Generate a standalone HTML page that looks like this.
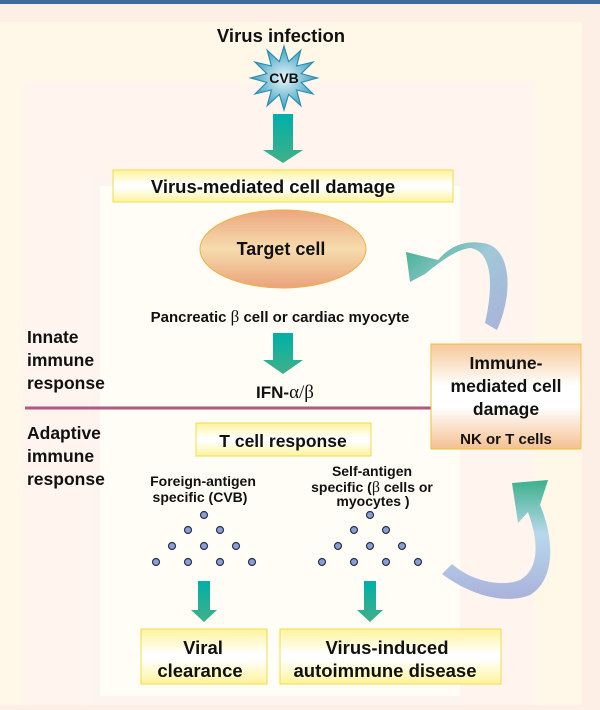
<!DOCTYPE html>
<html><head><meta charset="utf-8"><style>
html,body{margin:0;padding:0;}
body{width:600px;height:705px;overflow:hidden;background:#fdeee6;font-family:"Liberation Sans",Arial,sans-serif;}
svg text{font-family:"Liberation Sans",Arial,sans-serif;font-weight:bold;fill:#111;}
</style></head><body>
<svg width="600" height="705" viewBox="0 0 600 705" xmlns="http://www.w3.org/2000/svg">
<defs>
<linearGradient id="ybox" x1="0" y1="0" x2="0" y2="1">
<stop offset="0" stop-color="#fff39a"/><stop offset="0.45" stop-color="#ffffff"/><stop offset="0.55" stop-color="#ffffff"/><stop offset="1" stop-color="#fff39a"/></linearGradient>
<linearGradient id="pbox" x1="0" y1="0" x2="0" y2="1">
<stop offset="0" stop-color="#f6c898"/><stop offset="0.4" stop-color="#ffffff"/><stop offset="0.6" stop-color="#ffffff"/><stop offset="1" stop-color="#f4c090"/></linearGradient>
<linearGradient id="ell" x1="0" y1="0" x2="0" y2="1">
<stop offset="0" stop-color="#eca67e"/><stop offset="0.5" stop-color="#f6dcae"/><stop offset="1" stop-color="#eba27a"/></linearGradient>
<linearGradient id="arr" x1="0" y1="0" x2="0" y2="1">
<stop offset="0" stop-color="#00b0a8"/><stop offset="1" stop-color="#40b088"/></linearGradient>
<radialGradient id="star" cx="0.5" cy="0.5" r="0.5">
<stop offset="0" stop-color="#e8f6fa"/><stop offset="1" stop-color="#3a9ec0"/></radialGradient>
<linearGradient id="cur1" x1="0" y1="0" x2="1" y2="1">
<stop offset="0" stop-color="#3cb08c"/><stop offset="0.45" stop-color="#a0c8d8"/><stop offset="1" stop-color="#aab2da"/></linearGradient>
<linearGradient id="cur2" x1="0" y1="0" x2="0" y2="1">
<stop offset="0" stop-color="#3cb08c"/><stop offset="0.45" stop-color="#b8d8ec"/><stop offset="1" stop-color="#aab2da"/></linearGradient>
</defs>
<rect x="0" y="0" width="600" height="4" fill="#3a6aa0"/>
<rect x="0" y="22" width="582" height="683" fill="#fff7e8"/>
<rect x="23" y="82" width="512" height="623" fill="#fff4ee"/>
<rect x="90" y="174" width="370" height="531" fill="#fdf4f0"/>
<rect x="100" y="186" width="360" height="510" fill="#fffdf5"/>

<text x="281" y="42" font-size="18.5" text-anchor="middle">Virus infection</text>
<polygon transform="translate(284,78) scale(1.05,1.0)" fill="url(#star)" stroke="#2a8cb0" stroke-width="1.1" points="32,0 16.4,4.4 27.7,16 12,12 16,27.7 4.4,16.4 0,32 -4.4,16.4 -16,27.7 -12,12 -27.7,16 -16.4,4.4 -32,0 -16.4,-4.4 -27.7,-16 -12,-12 -16,-27.7 -4.4,-16.4 0,-32 4.4,-16.4 16,-27.7 12,-12 27.7,-16 16.4,-4.4"/>
<text x="284" y="83" font-size="14" text-anchor="middle">CVB</text>

<polygon fill="url(#arr)" points="273,114 293,114 293,150 303,150 283,163 263,150 273,150"/>
<rect x="113" y="170" width="340" height="32" fill="url(#ybox)" stroke="#f0dc50" stroke-width="1"/>
<text x="273" y="193" font-size="18.5" text-anchor="middle">Virus-mediated cell damage</text>

<ellipse cx="283" cy="249" rx="83" ry="39" fill="url(#ell)" stroke="#f0b040" stroke-width="1"/>
<text x="281" y="255" font-size="18" text-anchor="middle">Target cell</text>
<text x="280" y="322" font-size="15" text-anchor="middle">Pancreatic <tspan font-family="Liberation Serif" font-weight="normal" font-size="17">β</tspan> cell or cardiac myocyte</text>

<polygon fill="url(#arr)" points="273,333 293,333 293,360 303,360 283,374 263,360 273,360"/>
<text x="285" y="398" font-size="17" text-anchor="middle">IFN-<tspan font-family="Liberation Serif" font-weight="normal" font-size="19">α/β</tspan></text>

<line x1="25" y1="408" x2="431" y2="408" stroke="#b05880" stroke-width="3"/>

<text x="27" y="343" font-size="17.5">Innate</text>
<text x="27" y="366" font-size="17.5">immune</text>
<text x="27" y="389" font-size="17.5">response</text>
<text x="27" y="439" font-size="17.5">Adaptive</text>
<text x="27" y="462" font-size="17.5">immune</text>
<text x="27" y="485" font-size="17.5">response</text>

<rect x="431" y="344" width="150" height="105" fill="url(#pbox)" stroke="#f0c040" stroke-width="1"/>
<text x="506" y="369" font-size="17.5" text-anchor="middle">Immune-</text>
<text x="506" y="392" font-size="17.5" text-anchor="middle">mediated cell</text>
<text x="506" y="415" font-size="17.5" text-anchor="middle">damage</text>
<text x="506" y="444" font-size="15" text-anchor="middle">NK or T cells</text>

<path fill="url(#cur1)" d="M406,252 L410,282 L425,274 C440,262 455,250 470,248 C488,250 496,275 485,323 L497,330 C515,290 510,245 482,243 C465,240 450,246 438,260 Z"/>
<path fill="url(#cur2)" d="M442,574 C470,595 505,605 530,595 C555,580 555,540 540,505 L548,480 L512,483 L518,523 L528,512 C540,545 538,570 520,580 C500,588 470,580 452,564 Z"/>

<rect x="196" y="423" width="175" height="33" fill="url(#ybox)" stroke="#f0dc50" stroke-width="1"/>
<text x="283" y="447" font-size="17.5" text-anchor="middle">T cell response</text>

<text x="203" y="486" font-size="14" text-anchor="middle">Foreign-antigen</text>
<text x="200" y="502" font-size="14" text-anchor="middle">specific (CVB)</text>
<text x="372" y="476" font-size="14" text-anchor="middle">Self-antigen</text>
<text x="372" y="492" font-size="14" text-anchor="middle">specific (<tspan font-family="Liberation Serif" font-weight="normal" font-size="16">β</tspan> cells or</text>
<text x="373" y="506" font-size="14" text-anchor="middle">myocytes )</text>

<g fill="#8c9ed0" stroke="#2a3450" stroke-width="1.2">
<circle cx="204" cy="515" r="3.5"/>
<circle cx="188" cy="530" r="3.5"/><circle cx="220" cy="530" r="3.5"/>
<circle cx="172" cy="546" r="3.5"/><circle cx="204" cy="546" r="3.5"/><circle cx="236" cy="546" r="3.5"/>
<circle cx="156" cy="562" r="3.5"/><circle cx="188" cy="562" r="3.5"/><circle cx="220" cy="562" r="3.5"/><circle cx="252" cy="562" r="3.5"/>
<circle cx="370" cy="515" r="3.5"/>
<circle cx="354" cy="530" r="3.5"/><circle cx="386" cy="530" r="3.5"/>
<circle cx="338" cy="546" r="3.5"/><circle cx="370" cy="546" r="3.5"/><circle cx="402" cy="546" r="3.5"/>
<circle cx="322" cy="562" r="3.5"/><circle cx="354" cy="562" r="3.5"/><circle cx="386" cy="562" r="3.5"/><circle cx="418" cy="562" r="3.5"/>
</g>

<polygon fill="url(#arr)" points="198,581 210,581 210,610 217,610 204,622 191,610 198,610"/>
<polygon fill="url(#arr)" points="364,581 376,581 376,610 383,610 370,622 357,610 364,610"/>

<rect x="141" y="629" width="126" height="55" fill="url(#ybox)" stroke="#f0dc50" stroke-width="1"/>
<text x="203" y="654" font-size="18.5" text-anchor="middle">Viral</text>
<text x="200" y="677" font-size="18.5" text-anchor="middle">clearance</text>
<rect x="280" y="629" width="221" height="55" fill="url(#ybox)" stroke="#f0dc50" stroke-width="1"/>
<text x="387" y="654" font-size="18.5" text-anchor="middle">Virus-induced</text>
<text x="385" y="677" font-size="18.5" text-anchor="middle">autoimmune disease</text>
</svg>
</body></html>
